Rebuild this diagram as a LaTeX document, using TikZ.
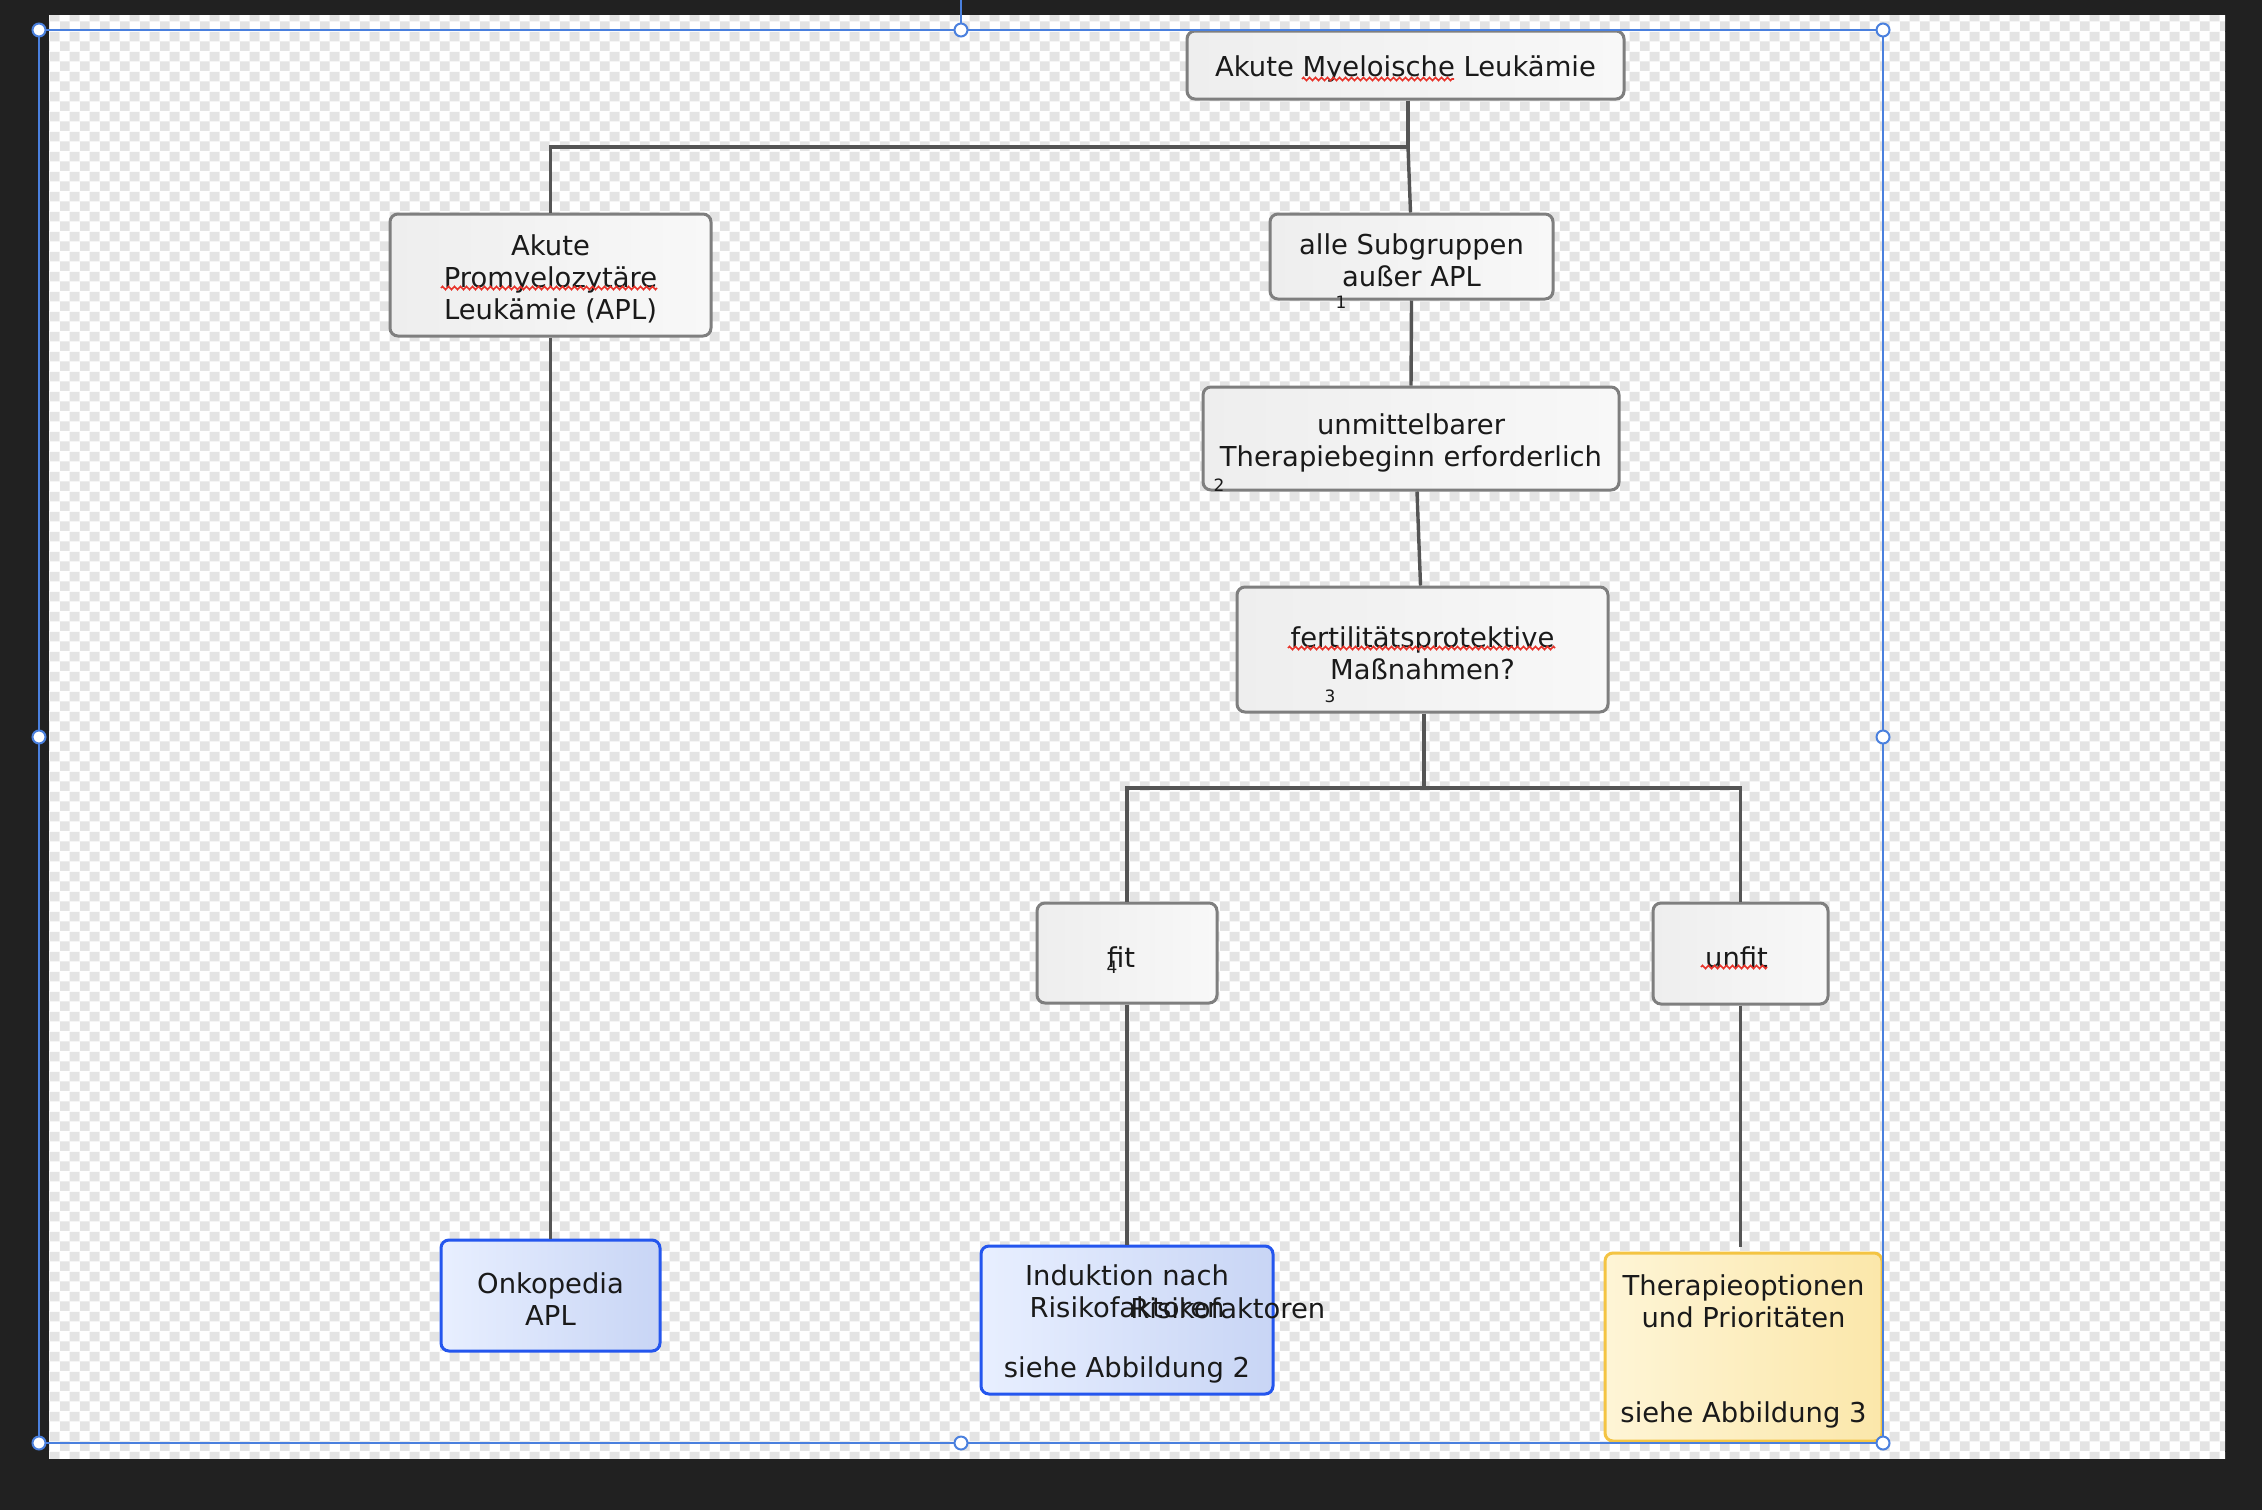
\documentclass[tikz,border=0pt]{standalone}
\usepackage{fontspec}
\setmainfont{DejaVu Sans}
\usetikzlibrary{patterns.meta,decorations.pathmorphing,calc}
\definecolor{bgdark}{HTML}{212121}
\definecolor{chkgray}{HTML}{E4E4E4}
\definecolor{selblue}{HTML}{4A80DE}
\definecolor{boxgray}{HTML}{7F7F7F}
\definecolor{linegray}{HTML}{555555}
\definecolor{bluebd}{HTML}{2456EE}
\definecolor{blueA}{HTML}{E8EFFF}
\definecolor{blueB}{HTML}{C8D5F5}
\definecolor{goldbd}{HTML}{F4C443}
\definecolor{goldA}{HTML}{FEF5D6}
\definecolor{goldB}{HTML}{FBE7AA}
\definecolor{grayA}{HTML}{EEEEEE}
\definecolor{grayB}{HTML}{F8F8F8}
\definecolor{txt}{HTML}{1A1A1A}
\definecolor{squig}{HTML}{E8332A}
\tikzdeclarepattern{
  name=chk,
  type=colored,
  bottom left={(0pt,0pt)},
  top right={(10pt,10pt)},
  tile size={(10pt,10pt)},
  code={
    \fill[white] (0pt,0pt) rectangle (10pt,10pt);
    \fill[chkgray] (0pt,0pt) rectangle (5pt,5pt);
    \fill[chkgray] (5pt,5pt) rectangle (10pt,10pt);
  }
}
\tikzset{
  box/.style={draw=boxgray, line width=1.5pt, rounded corners=4pt,
    left color=grayA, right color=grayB, inner sep=0pt},
  bluebox/.style={box, draw=bluebd, left color=blueA, right color=blueB},
  goldbox/.style={box, draw=goldbd, left color=goldA, right color=goldB},
  btext/.style={inner sep=0pt, text=txt, align=center, yshift=-2pt,
    font=\fontsize{13.7}{16}\selectfont},
  plain/.style={inner sep=0pt, text=txt, font=\fontsize{13.7}{16}\selectfont},
  conn/.style={draw=linegray, line width=1.7pt},
  fn/.style={inner sep=0pt, text=txt, font=\fontsize{8.5}{10}\selectfont},
  squiggle/.style={draw=squig, line width=0.8pt, decorate,
    decoration={zigzag, segment length=3pt, amplitude=0.8pt}},
  sel/.style={draw=selblue, line width=1.2pt},
  handle/.style={circle, draw=selblue, fill=white, line width=1pt,
    minimum size=6.5pt, inner sep=0pt}
}
\begin{document}
\begin{tikzpicture}[x=0.5pt, y=-0.5pt]
\useasboundingbox (0,0) rectangle (2262,1510);
\fill[bgdark] (0,0) rectangle (2262,1510);
\fill[white] (49,15) rectangle (2225,1458);
\fill[pattern=chk] (49,15) rectangle (2225,1458);

% nodes
\node[box, minimum width=218.5pt, minimum height=34pt,
  label={[btext]center:{Akute Myeloische Leukämie}}] (top) at (1405.5,65) {};
\node[box, minimum width=160.5pt, minimum height=61pt,
  label={[btext]center:{Akute\\Promyelozytäre\\Leukämie (APL)}}] (apl) at (550.5,275) {};
\node[box, minimum width=141.5pt, minimum height=42.5pt,
  label={[btext]center:{alle Subgruppen\\außer APL}}] (alle) at (1411.5,256.5) {};
\node[box, minimum width=208pt, minimum height=51.5pt,
  label={[btext]center:{unmittelbarer\\Therapiebeginn erforderlich}}] (unm) at (1411,438.5) {};
\node[box, minimum width=185.5pt, minimum height=62.5pt,
  label={[btext]center:{fertilitätsprotektive\\Maßnahmen?}}] (fert) at (1422.5,649.5) {};
\node[box, minimum width=90pt, minimum height=50pt,
  label={[btext,xshift=-3pt]center:{fit}}] (fit) at (1127,953) {};
\node[box, minimum width=87.5pt, minimum height=50.5pt,
  label={[btext,xshift=-2pt]center:{unfit}}] (unfit) at (1740.5,953.5) {};
\node[bluebox, minimum width=109.5pt, minimum height=55.5pt,
  label={[btext]center:{Onkopedia\\APL}}] (onko) at (550.5,1295.5) {};
\node[bluebox, minimum width=146pt, minimum height=74pt,
  label={[btext]center:{Induktion nach\\Risikofaktoren\\[14pt]siehe Abbildung 2}}] (ind) at (1127,1320) {};
\node[goldbox, minimum width=138.5pt, minimum height=94pt,
  label={[btext]center:{Therapieoptionen\\und Prioritäten\\[31.5pt]siehe Abbildung 3}}] (ther) at (1743.5,1347) {};
\node[plain, anchor=base west] (risk2) at (1130,1318) {Risikofaktoren};

% footnotes
\node[fn] (f1) at (1341,302) {1};
\node[fn] (f2) at (1219,485) {2};
\node[fn] (f3) at (1330,696) {3};
\node[fn] (f4) at (1112,967) {4};

% connectors
\coordinate (j1) at (1408,147);
\coordinate (j2) at (1424,788);
\draw[conn] ([xshift=1.25pt]top.south) -- (j1) -| (apl.north);
\draw[conn] (j1) -- ([xshift=-0.5pt]alle.north);
\draw[conn] (alle.south) -- (unm.north);
\draw[conn] ([xshift=3pt]unm.south) -- ([xshift=-1pt]fert.north);
\draw[conn] ([xshift=0.75pt]fert.south) -- (j2);
\draw[conn] (j2) -| (fit.north);
\draw[conn] (j2) -| (unfit.north);
\draw[conn] (apl.south) -- (onko.north);
\draw[conn] (fit.south) -- (ind.north);
\draw[conn] (unfit.south) -- ([yshift=2.5pt]ther.north -| unfit.south);

% spell-check squiggles
\draw[squiggle] (1302,79) -- (1454,79);
\draw[squiggle] (441,288) -- (657,288);
\draw[squiggle] (1288,648) -- (1555,648);
\draw[squiggle] (1701,967) -- (1767,967);

% selection frame
\draw[sel] (961,0) -- (961,30);
\draw[sel] (39,30) rectangle (1883,1443);
\foreach \p/\n in {{39,30}/a,{961,30}/b,{1883,30}/c,{39,737}/d,{1883,737}/e,{39,1443}/f,{961,1443}/g,{1883,1443}/h}
  \node[handle] (h\n) at (\p) {};
\end{tikzpicture}
\end{document}
